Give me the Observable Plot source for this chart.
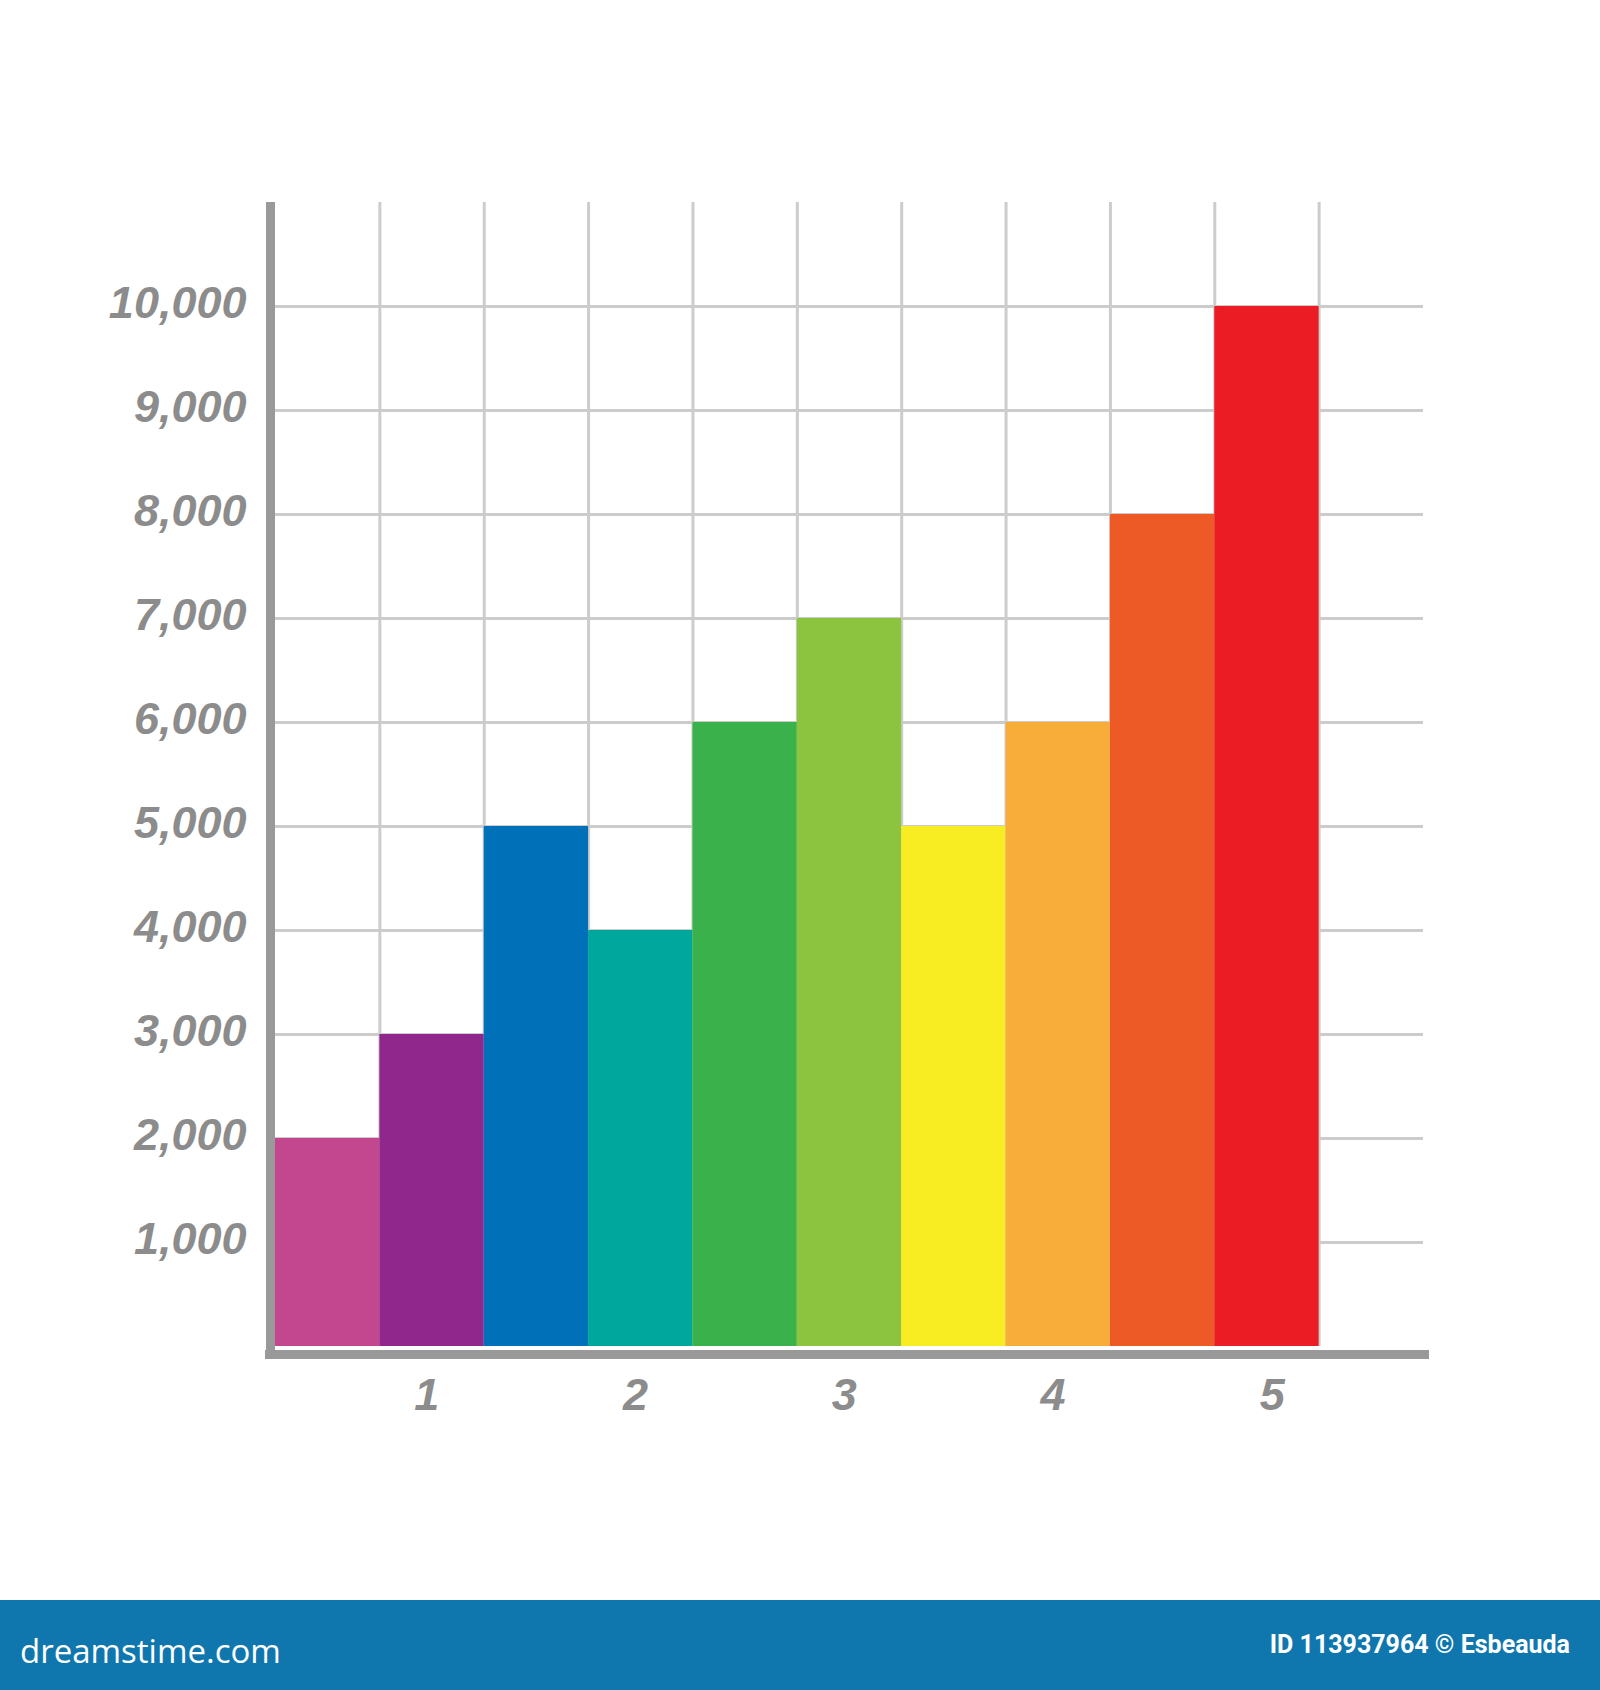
<!DOCTYPE html>
<html>
<head>
<meta charset="utf-8">
<script src="https://cdn.jsdelivr.net/npm/d3@7"></script>
<script src="https://cdn.jsdelivr.net/npm/@observablehq/plot@0.6"></script>
<style>
  html, body { margin: 0; padding: 0; background: #fff; }
  #chart { width: 1600px; height: 1600px; }
  #chart svg { display: block; }
  #footer { width: 1600px; height: 90px; background: #1077ae; display: block; }
</style>
</head>
<body>
<div id="chart"></div>
<svg id="footer" width="1600" height="90" xmlns="http://www.w3.org/2000/svg">
  <rect x="0" y="0" width="1600" height="90" fill="#1077ae"></rect>
  <text x="20" y="63" fill="#ffffff" font-family="Open Sans, Liberation Sans, Arial, sans-serif" font-size="33">dreamstime.com</text>
  <text x="1570" y="53" text-anchor="end" fill="#ffffff" font-family="Roboto, Liberation Sans, Arial, sans-serif" font-weight="bold" font-size="25">ID 113937964 © Esbeauda</text>
</svg>
<script>
// ---- data ----
const barValues = [2000, 3000, 5000, 4000, 6000, 7000, 5000, 6000, 8000, 10000];
const barColors = ["#c2478f", "#8f278c", "#0070b9", "#00a79c", "#3bb14b", "#8cc43f", "#f8ec23", "#f8ad3b", "#ee5a25", "#ec1c24"];
const yTicks = [1000, 2000, 3000, 4000, 5000, 6000, 7000, 8000, 9000, 10000];
const xTickLabels = ["1", "2", "3", "4", "5"];
const xTickPositions = [1.45, 3.45, 5.45, 7.45, 9.55];
const xGridPositions = [1, 2, 3, 4, 5, 6, 7, 8, 9, 10];

const bars = barValues.map((v, i) => ({x1: i, x2: i + 1, y: v, color: barColors[i]}));
const xLabels = xTickLabels.map((t, k) => ({x: xTickPositions[k], text: t}));

const labelStyle = {
  fontSize: 45, fontWeight: "bold", fontStyle: "italic",
  fill: "#8c8c8c", fontFamily: "Liberation Sans, Arial, sans-serif"
};

const chart = Plot.plot({
  width: 1600,
  height: 1600,
  marginLeft: 275,
  marginRight: 177,
  marginTop: 202,
  marginBottom: 254,
  x: {type: "linear", domain: [0, 11], axis: null},
  y: {domain: [0, 11000], axis: null},
  style: {background: "#ffffff", fontFamily: "Liberation Sans, Arial, sans-serif"},
  marks: [
    // vertical gridlines
    Plot.ruleX(xGridPositions, {y1: 11000, y2: 0, stroke: "#cccccc", strokeWidth: 3}),
    // horizontal gridlines
    Plot.ruleY(yTicks, {x1: 0, x2: 11, stroke: "#cccccc", strokeWidth: 3}),
    // bars
    Plot.rectY(bars, {x1: "x1", x2: "x2", y: "y", fill: "color"}),
    // x axis line
    Plot.ruleY([0], {x1: 0, x2: 11, dy: 8, strokeWidth: 9, stroke: "#999999", insetLeft: -10, insetRight: -6}),
    // y axis line
    Plot.ruleX([0], {y1: 11000, y2: 0, dx: -5, strokeWidth: 9, stroke: "#999999", insetBottom: -13}),
    // y tick labels
    Plot.text(yTicks, {x: 0, y: d => d, text: d => d3.format(",")(d), textAnchor: "end", lineAnchor: "middle", dx: -29, dy: -3, ...labelStyle}),
    // x tick labels
    Plot.text(xLabels, {x: "x", y: 0, text: "text", textAnchor: "middle", lineAnchor: "middle", dy: 49, ...labelStyle})
  ]
});
document.getElementById("chart").appendChild(chart);
</script>
</body>
</html>
